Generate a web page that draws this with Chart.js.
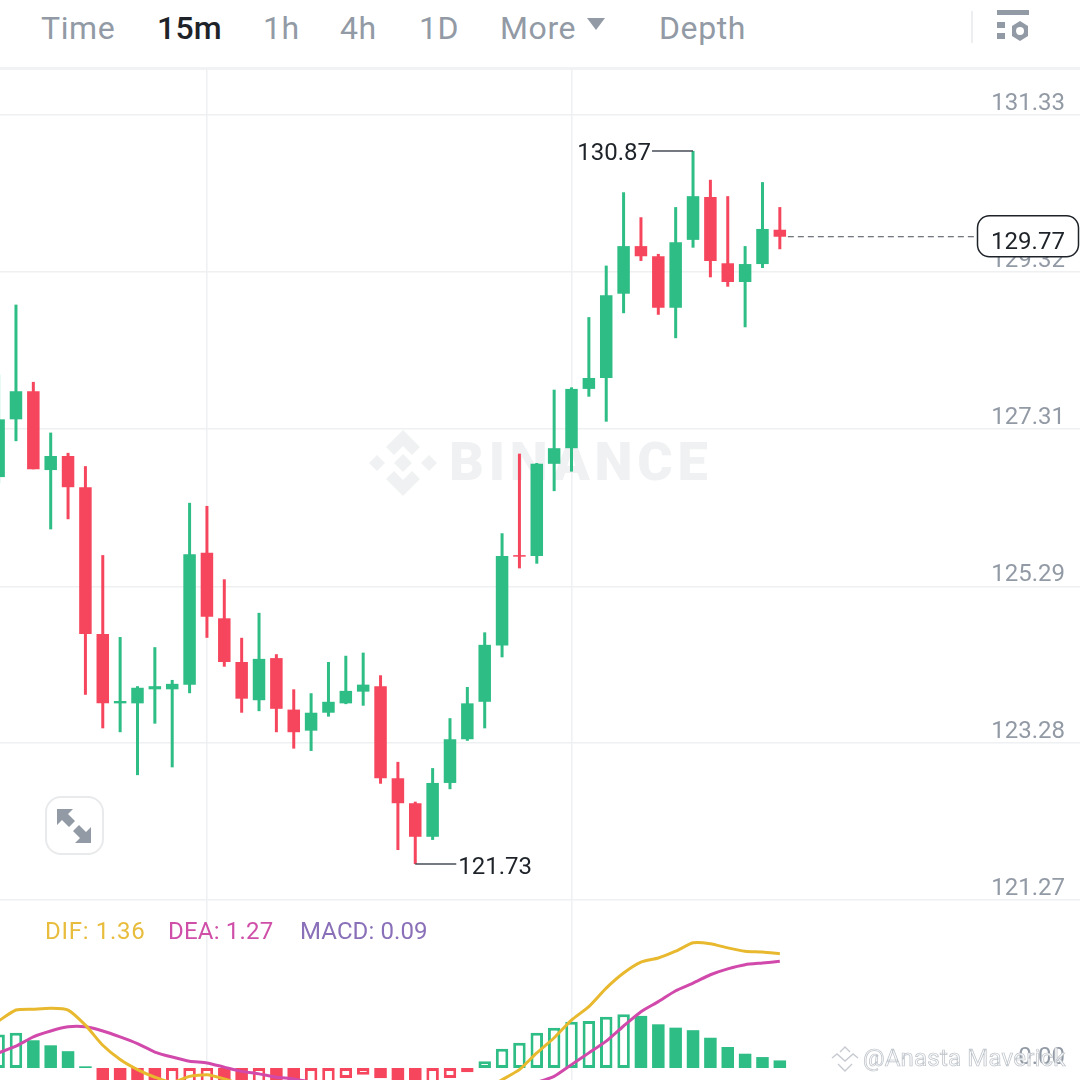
<!DOCTYPE html>
<html>
<head>
<meta charset="utf-8">
<script src="https://cdn.jsdelivr.net/npm/chart.js@4"></script>
<style>
  html, body { margin: 0; padding: 0; background: #fff; width: 1080px; height: 1080px; overflow: hidden; }
  body { position: relative; font-family: Roboto, sans-serif; }
  canvas { position: absolute; left: 0; top: 70px; z-index: 1; }
  .tab { position: absolute; top: 8px; font-size: 32px; line-height: 40px; color: #929aa5; letter-spacing: 0.6px; z-index: 2; }
  .tab.on { color: #1e2329; font-weight: 500; letter-spacing: 0.2px; }
  .rule { position: absolute; left: 0; top: 67px; width: 1080px; height: 3px; background: #f1f2f3; }
  .legend { position: absolute; top: 916px; font-size: 24px; line-height: 30px; z-index: 2; }
  .brand { position: absolute; left: 449px; top: 431px; font-size: 54px; line-height: 62px; font-weight: 900; color: #f0f1f2; letter-spacing: 4.8px; z-index: 0; }
  .credit { position: absolute; left: 863px; top: 1043px; font-size: 24px; line-height: 30px; color: #fafafa; -webkit-text-stroke: 0.7px #bcc2c9; letter-spacing: 0.2px; z-index: 2; white-space: nowrap; }
  svg { position: absolute; z-index: 2; }
  .zoom { position: absolute; left: 45px; top: 796px; width: 55px; height: 55px; border: 2.5px solid #e8eaec; border-radius: 16px; background: #fff; z-index: 2; }
</style>
</head>
<body>
<span class="tab" style="left:41px">Time</span>
<span class="tab on" style="left:157px">15m</span>
<span class="tab" style="left:263px">1h</span>
<span class="tab" style="left:340px">4h</span>
<span class="tab" style="left:419px">1D</span>
<span class="tab" style="left:500px">More</span>
<span class="tab" style="left:659px">Depth</span>
<svg style="left:587px;top:18px" width="18" height="13"><polygon points="0,0 18,0 9,12" fill="#929aa5"/></svg>
<svg style="left:970px;top:8px" width="64" height="38">
  <rect x="1" y="3" width="2" height="32" fill="#eceef0"/>
  <rect x="27" y="2" width="32" height="5" fill="#929aa5"/>
  <rect x="27" y="14" width="8" height="6" fill="#929aa5"/>
  <rect x="27" y="25" width="8" height="6" fill="#929aa5"/>
  <polygon points="50,13 58,18 58,28 50,33 42,28 42,18" fill="#929aa5"/>
  <circle cx="50" cy="23" r="4" fill="#fff"/>
</svg>
<div class="rule"></div>

<div class="brand">BINANCE</div>
<svg style="left:368px;top:428px;z-index:0" width="70" height="70" viewBox="0 0 70 70">
  <g fill="#f0f1f2">
    <polygon points="35,2 52,19 44,27 35,18 26,27 18,19"/>
    <polygon points="35,68 52,51 44,43 35,52 26,43 18,51"/>
    <polygon points="9,27 17,35 9,43 1,35"/>
    <polygon points="61,27 69,35 61,43 53,35"/>
    <polygon points="35,26 44,35 35,44 26,35"/>
  </g>
</svg>

<canvas id="chart" width="1080" height="1010"></canvas>

<div class="zoom"></div>
<svg style="left:56px;top:808px" width="36" height="36" viewBox="0 0 36 36">
  <g fill="#929aa5">
    <polygon points="1,1 17,1 12,6 19,13 13,19 6,12 1,17"/>
    <polygon points="35,35 19,35 24,30 17,23 23,17 30,24 35,19"/>
  </g>
</svg>

<span class="legend" id="legendDif" style="left:45px;color:#e8bc3c;letter-spacing:0.7px"></span>
<span class="legend" id="legendDea" style="left:168px;color:#cf4fa8;letter-spacing:0.2px"></span>
<span class="legend" id="legendMacd" style="left:300px;color:#8a70b8;letter-spacing:0.1px"></span>

<svg style="left:831px;top:1046px" width="28" height="26" viewBox="0 0 28 26">
  <g fill="none" stroke="#c6cad0" stroke-width="1.4">
    <polyline points="9,6 14,1 19,6"/>
    <polyline points="1,12 6,8 14,15 22,8 27,12"/>
    <polyline points="7,18 14,25 21,18"/>
  </g>
</svg>
<span class="credit">@Anasta Maverick</span>

<script>
const slots = [-1, 0, 1, 2, 3, 4, 5, 6, 7, 8, 9, 10, 11, 12, 13, 14, 15, 16, 17, 18, 19, 20, 21, 22, 23, 24, 25, 26, 27, 28, 29, 30, 31, 32, 33, 34, 35, 36, 37, 38, 39, 40, 41, 42, 43, 44]

const opens = [126.69, 127.43, 127.79, 126.78, 126.96, 126.56, 124.68, 123.79, 123.79, 123.97, 123.97, 124.03, 125.72, 124.88, 124.32, 123.83, 124.37, 123.71, 123.44, 123.67, 123.79, 123.94, 124.01, 122.83, 122.51, 122.08, 122.77, 123.33, 123.81, 124.53, 125.69, 125.68, 126.86, 127.06, 127.82, 127.96, 129.04, 129.65, 129.52, 128.86, 129.73, 130.28, 129.43, 129.19, 129.42, 129.86]
const closes = [127.43, 127.79, 126.79, 126.96, 126.56, 124.68, 123.79, 123.82, 123.99, 124.01, 124.04, 125.70, 124.90, 124.32, 123.85, 124.36, 123.72, 123.42, 123.67, 123.81, 123.95, 124.03, 122.83, 122.51, 122.08, 122.77, 123.33, 123.79, 124.54, 125.68, 125.67, 126.86, 127.06, 127.82, 127.96, 129.02, 129.65, 129.52, 128.86, 129.70, 130.29, 129.46, 129.19, 129.42, 129.87, 129.77]
const highs = [128.00, 128.90, 127.91, 127.26, 127.00, 126.83, 125.69, 124.64, 124.01, 124.51, 124.09, 126.36, 126.32, 125.38, 124.63, 124.95, 124.42, 123.97, 123.92, 124.32, 124.40, 124.44, 124.15, 123.04, 122.53, 122.96, 123.60, 124.00, 124.70, 125.97, 126.99, 126.87, 127.81, 127.84, 128.74, 129.40, 130.34, 130.02, 129.55, 130.15, 130.87, 130.50, 130.29, 129.65, 130.47, 130.15]
const lows = [126.61, 127.15, 126.79, 126.02, 126.15, 123.90, 123.47, 123.42, 122.87, 123.53, 122.97, 123.92, 124.63, 124.26, 123.67, 123.69, 123.42, 123.21, 123.18, 123.62, 123.78, 123.76, 122.76, 121.91, 121.73, 122.04, 122.69, 123.31, 123.47, 124.38, 125.52, 125.58, 126.51, 126.76, 127.72, 127.40, 128.79, 129.46, 128.77, 128.47, 129.63, 129.25, 129.13, 128.61, 129.37, 129.61]

const macdBars = [0.40, 0.42, 0.33, 0.27, 0.20, 0.02, -0.20, -0.30, -0.36, -0.38, -0.34, -0.30, -0.26, -0.28, -0.30, -0.27, -0.29, -0.30, -0.25, -0.18, -0.12, -0.08, -0.12, -0.17, -0.22, -0.20, -0.12, -0.05, 0.08, 0.23, 0.30, 0.42, 0.48, 0.55, 0.56, 0.61, 0.64, 0.62, 0.52, 0.48, 0.45, 0.36, 0.25, 0.17, 0.13, 0.09]
const difLine = [0.56, 0.69, 0.70, 0.71, 0.69, 0.51, 0.27, 0.10, -0.02, -0.11, -0.17, -0.10, -0.08, -0.13, -0.20, -0.28, -0.34, -0.40, -0.46, -0.48, -0.46, -0.46, -0.50, -0.60, -0.68, -0.60, -0.50, -0.38, -0.26, -0.14, -0.02, 0.18, 0.36, 0.57, 0.73, 0.95, 1.13, 1.26, 1.31, 1.39, 1.49, 1.48, 1.43, 1.39, 1.38, 1.36]
const deaLine = [0.18, 0.26, 0.37, 0.44, 0.49, 0.49, 0.44, 0.37, 0.29, 0.19, 0.13, 0.08, 0.06, 0.01, -0.04, -0.07, -0.11, -0.13, -0.17, -0.20, -0.24, -0.28, -0.32, -0.36, -0.42, -0.44, -0.42, -0.38, -0.33, -0.28, -0.22, -0.17, -0.10, 0.04, 0.18, 0.32, 0.50, 0.67, 0.79, 0.92, 1.01, 1.11, 1.18, 1.23, 1.25, 1.27]

const priceTicks = [121.27, 123.28, 125.29, 127.31, 129.32, 131.33]
const macdTicks = [0]
const timeTicks = [11, 32]

const GREEN = "#2ebd85"
const RED = "#f6465d"
const INK = "#1e2329"
const GRID = "#eef0f1"
const LEADER = "#474d57"

document.getElementById("legendDif").textContent = `DIF: ${difLine.at(-1)}`
document.getElementById("legendDea").textContent = `DEA: ${deaLine.at(-1)}`
document.getElementById("legendMacd").textContent = `MACD: ${macdBars.at(-1)}`

const candleColor = ctx => closes[ctx.dataIndex] >= opens[ctx.dataIndex] ? GREEN : RED
const macdColor = ctx => macdBars[ctx.dataIndex] >= 0 ? GREEN : RED
const macdHollow = i => i === 0 || macdBars[i] >= macdBars[i - 1]

// axes sit on top of the plot, they must not take any room from it
const noRoom = axis => {
  axis.width = 0
  axis.paddingTop = 0
  axis.paddingBottom = 0
  axis.paddingLeft = 0
  axis.paddingRight = 0
}

// high/low leaders and the last price tag
const priceMarks = {
  id: "priceMarks",
  afterDraw(chart) {
    const { ctx, scales: { x, y } } = chart
    ctx.save()
    ctx.font = "24px Roboto"
    ctx.textBaseline = "middle"

    const top = highs.indexOf(Math.max(...highs))
    const topX = x.getPixelForValue(slots[top])
    const topY = y.getPixelForValue(highs[top])
    ctx.strokeStyle = LEADER
    ctx.lineWidth = 1.5
    ctx.beginPath()
    ctx.moveTo(topX, topY)
    ctx.lineTo(topX - 41, topY)
    ctx.stroke()
    ctx.fillStyle = INK
    ctx.textAlign = "right"
    ctx.fillText(highs[top].toFixed(2), topX - 42, topY + 3)

    const bottom = lows.indexOf(Math.min(...lows))
    const bottomX = x.getPixelForValue(slots[bottom])
    const bottomY = y.getPixelForValue(lows[bottom])
    ctx.beginPath()
    ctx.moveTo(bottomX, bottomY)
    ctx.lineTo(bottomX + 41, bottomY)
    ctx.stroke()
    ctx.textAlign = "left"
    ctx.fillText(lows[bottom].toFixed(2), bottomX + 43, bottomY + 4)

    const last = closes.at(-1)
    const lastX = x.getPixelForValue(slots.at(-1))
    const lastY = y.getPixelForValue(last)
    ctx.lineWidth = 1
    ctx.setLineDash([6, 4])
    ctx.beginPath()
    ctx.moveTo(lastX + 8, lastY)
    ctx.lineTo(977, lastY)
    ctx.stroke()
    ctx.setLineDash([])

    ctx.beginPath()
    ctx.roundRect(977.5, lastY - 21, 101, 41, 12)
    ctx.fillStyle = "#fff"
    ctx.fill()
    ctx.strokeStyle = INK
    ctx.lineWidth = 1.5
    ctx.stroke()
    ctx.fillStyle = INK
    ctx.textAlign = "center"
    ctx.fillText(last.toFixed(2), 1028, lastY + 6)
    ctx.restore()
  }
}

new Chart(document.getElementById("chart"), {
  type: "bar",
  data: {
    datasets: [
      {
        label: "wick",
        order: 5,
        data: slots.map((s, i) => ({ x: s, y: [lows[i], highs[i]] })),
        backgroundColor: candleColor,
        maxBarThickness: 3,
        yAxisID: "y"
      },
      {
        label: "body",
        order: 4,
        data: slots.map((s, i) => ({ x: s, y: [opens[i], closes[i]] })),
        backgroundColor: candleColor,
        maxBarThickness: 15,
        yAxisID: "y"
      },
      {
        label: "MACD",
        order: 3,
        data: slots.map((s, i) => ({ x: s, y: macdBars[i] })),
        backgroundColor: ctx => macdHollow(ctx.dataIndex) ? "#fff" : macdColor(ctx),
        borderColor: macdColor,
        borderWidth: ctx => macdHollow(ctx.dataIndex) ? 3 : 0,
        borderSkipped: false,
        maxBarThickness: 15,
        yAxisID: "macd"
      },
      {
        type: "line",
        label: "DEA",
        order: 2,
        data: slots.map((s, i) => ({ x: s, y: deaLine[i] })),
        borderColor: "#d049ab",
        borderWidth: 3,
        pointRadius: 0,
        tension: 0.2,
        yAxisID: "macd"
      },
      {
        type: "line",
        label: "DIF",
        order: 1,
        data: slots.map((s, i) => ({ x: s, y: difLine[i] })),
        borderColor: "#e8b92e",
        borderWidth: 3,
        pointRadius: 0,
        tension: 0.2,
        yAxisID: "macd"
      }
    ]
  },
  options: {
    responsive: false,
    animation: false,
    events: [],
    layout: { padding: 0 },
    datasets: { bar: { grouped: false, barPercentage: 0.9 } },
    plugins: { legend: { display: false }, tooltip: { enabled: false } },
    scales: {
      x: {
        type: "linear",
        offset: false,
        min: -0.92,
        max: 61.29,
        afterBuildTicks: axis => { axis.ticks = timeTicks.map(value => ({ value })) },
        afterFit: axis => { axis.height = 0; axis.paddingLeft = 0; axis.paddingRight = 0 },
        grid: { color: GRID, lineWidth: 1.5, offset: false, drawTicks: false },
        border: { display: false },
        ticks: { display: false }
      },
      y: {
        position: "right",
        min: 118.963,
        max: 131.907,
        afterBuildTicks: axis => { axis.ticks = priceTicks.map(value => ({ value })) },
        afterFit: noRoom,
        grid: { color: GRID, lineWidth: 1.5, drawTicks: false },
        border: { display: false },
        ticks: {
          mirror: true,
          autoSkip: false,
          padding: -15,
          labelOffset: -11,
          color: "#929aa5",
          font: { family: "Roboto", size: 24 },
          callback: v => v.toFixed(2)
        }
      },
      macd: {
        position: "right",
        min: -0.143,
        max: 11.881,
        afterBuildTicks: axis => { axis.ticks = macdTicks.map(value => ({ value })) },
        afterFit: noRoom,
        grid: { display: false, drawTicks: false },
        border: { display: false },
        ticks: {
          mirror: true,
          autoSkip: false,
          padding: -15,
          labelOffset: -10,
          color: "#929aa5",
          font: { family: "Roboto", size: 24 },
          callback: v => v.toFixed(2)
        }
      }
    }
  },
  plugins: [priceMarks]
})
</script>
</body>
</html>
